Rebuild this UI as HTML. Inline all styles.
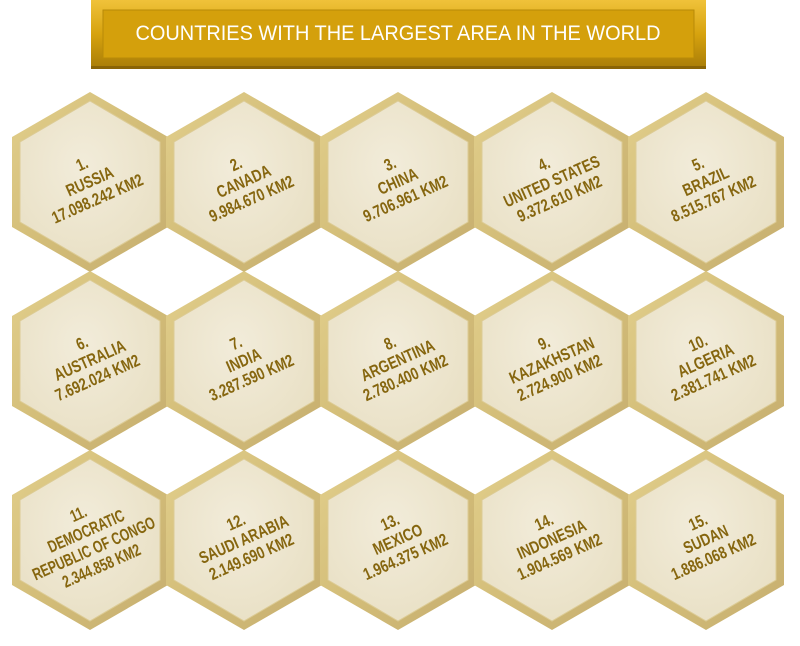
<!DOCTYPE html>
<html><head><meta charset="utf-8"><style>
html,body{margin:0;padding:0;background:#fff;width:800px;height:646px;overflow:hidden}
svg{display:block}
.t{font-family:"Liberation Sans Narrow","Liberation Sans",sans-serif;font-weight:bold;fill:#86660f;font-size:17px;text-anchor:middle}
</style></head><body>
<svg width="800" height="646" viewBox="0 0 800 646">
<defs>
<linearGradient id="ban" x1="0" y1="0" x2="0" y2="1"><stop offset="0" stop-color="#f0c23a"/><stop offset="0.5" stop-color="#d6a20e"/><stop offset="1" stop-color="#a87c08"/></linearGradient>
<linearGradient id="rim" x1="0" y1="0" x2="1" y2="1"><stop offset="0" stop-color="#e2cf8c"/><stop offset="0.5" stop-color="#d3bd78"/><stop offset="1" stop-color="#c6ae70"/></linearGradient>
<radialGradient id="face" cx="0.45" cy="0.4" r="0.7"><stop offset="0" stop-color="#f2ecda"/><stop offset="1" stop-color="#e8dfc3"/></radialGradient>
<g id="hex">
<polygon points="0,-90 78,-45 78,45 0,90 -78,45 -78,-45" fill="url(#rim)"/>
<polygon points="0,-81 70,-40 70,40 0,81 -70,40 -70,-40" fill="url(#face)" stroke="#dccb95" stroke-width="1"/>
</g>
</defs>
<rect x="91" y="0" width="615" height="69" fill="url(#ban)"/>
<rect x="91" y="66" width="615" height="3" fill="#8a6406"/>
<rect x="103" y="10" width="591" height="48" fill="#d4a00c" stroke="#b88a08" stroke-width="1"/>
<text x="398" y="40" font-family="Liberation Sans Narrow,Liberation Sans,sans-serif" font-size="21" fill="#fff" text-anchor="middle" textLength="525" lengthAdjust="spacingAndGlyphs">COUNTRIES WITH THE LARGEST AREA IN THE WORLD</text>

<use href="#hex" x="90" y="182"/><use href="#hex" x="244" y="182"/><use href="#hex" x="398" y="182"/><use href="#hex" x="552" y="182"/><use href="#hex" x="706" y="182"/>
<use href="#hex" x="90" y="361"/><use href="#hex" x="244" y="361"/><use href="#hex" x="398" y="361"/><use href="#hex" x="552" y="361"/><use href="#hex" x="706" y="361"/>
<use href="#hex" x="90" y="540"/><use href="#hex" x="244" y="540"/><use href="#hex" x="398" y="540"/><use href="#hex" x="552" y="540"/><use href="#hex" x="706" y="540"/>

<g transform="translate(90,182) rotate(-24) scale(0.78,1)"><text class="t" y="-14">1.</text><text class="t" y="5">RUSSIA</text><text class="t" y="24">17.098.242 KM2</text></g>
<g transform="translate(244,182) rotate(-24) scale(0.78,1)"><text class="t" y="-14">2.</text><text class="t" y="5">CANADA</text><text class="t" y="24">9.984.670 KM2</text></g>
<g transform="translate(398,182) rotate(-24) scale(0.78,1)"><text class="t" y="-14">3.</text><text class="t" y="5">CHINA</text><text class="t" y="24">9.706.961 KM2</text></g>
<g transform="translate(552,182) rotate(-24) scale(0.78,1)"><text class="t" y="-14">4.</text><text class="t" y="5">UNITED STATES</text><text class="t" y="24">9.372.610 KM2</text></g>
<g transform="translate(706,182) rotate(-24) scale(0.78,1)"><text class="t" y="-14">5.</text><text class="t" y="5">BRAZIL</text><text class="t" y="24">8.515.767 KM2</text></g>

<g transform="translate(90,361) rotate(-24) scale(0.78,1)"><text class="t" y="-14">6.</text><text class="t" y="5">AUSTRALIA</text><text class="t" y="24">7.692.024 KM2</text></g>
<g transform="translate(244,361) rotate(-24) scale(0.78,1)"><text class="t" y="-14">7.</text><text class="t" y="5">INDIA</text><text class="t" y="24">3.287.590 KM2</text></g>
<g transform="translate(398,361) rotate(-24) scale(0.78,1)"><text class="t" y="-14">8.</text><text class="t" y="5">ARGENTINA</text><text class="t" y="24">2.780.400 KM2</text></g>
<g transform="translate(552,361) rotate(-24) scale(0.78,1)"><text class="t" y="-14">9.</text><text class="t" y="5">KAZAKHSTAN</text><text class="t" y="24">2.724.900 KM2</text></g>
<g transform="translate(706,361) rotate(-24) scale(0.78,1)"><text class="t" y="-14">10.</text><text class="t" y="5">ALGERIA</text><text class="t" y="24">2.381.741 KM2</text></g>

<g transform="translate(90,540) rotate(-24) scale(0.72,1)"><text class="t" y="-23">11.</text><text class="t" y="-4">DEMOCRATIC</text><text class="t" y="15">REPUBLIC OF CONGO</text><text class="t" y="34">2.344.858 KM2</text></g>
<g transform="translate(244,540) rotate(-24) scale(0.78,1)"><text class="t" y="-14">12.</text><text class="t" y="5">SAUDI ARABIA</text><text class="t" y="24">2.149.690 KM2</text></g>
<g transform="translate(398,540) rotate(-24) scale(0.78,1)"><text class="t" y="-14">13.</text><text class="t" y="5">MEXICO</text><text class="t" y="24">1.964.375 KM2</text></g>
<g transform="translate(552,540) rotate(-24) scale(0.78,1)"><text class="t" y="-14">14.</text><text class="t" y="5">INDONESIA</text><text class="t" y="24">1.904.569 KM2</text></g>
<g transform="translate(706,540) rotate(-24) scale(0.78,1)"><text class="t" y="-14">15.</text><text class="t" y="5">SUDAN</text><text class="t" y="24">1.886.068 KM2</text></g>
</svg>
</body></html>
